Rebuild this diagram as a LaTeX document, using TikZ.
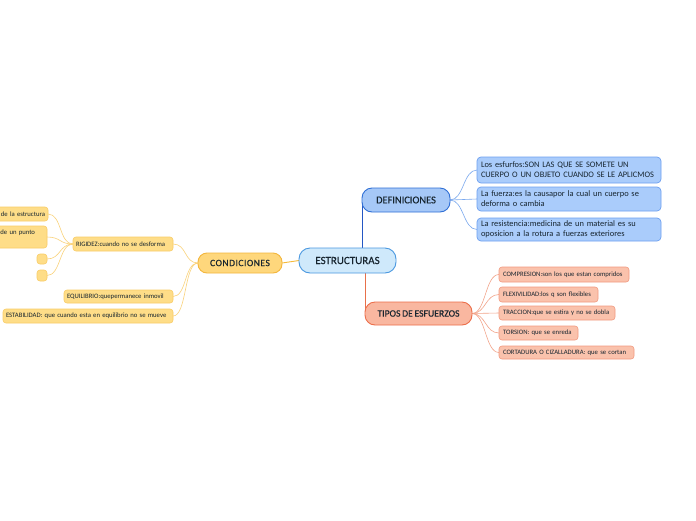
\documentclass[tikz,border=0pt]{standalone}
\usepackage{fontspec}
\setmainfont{Carlito}[WordSpace=0.75]
\usetikzlibrary{backgrounds}
\definecolor{txt}{HTML}{17252F}
\definecolor{rootfill}{HTML}{CFE9FB}
\definecolor{rootdraw}{HTML}{4A98E0}
\definecolor{deffill}{HTML}{A6C8F7}
\definecolor{defdraw}{HTML}{2F6FD6}
\definecolor{dchfill}{HTML}{AACCFB}
\definecolor{dchdraw}{HTML}{6C9FF0}
\definecolor{tipfill}{HTML}{F9B7A0}
\definecolor{tipdraw}{HTML}{EC6E4A}
\definecolor{tchfill}{HTML}{FAC2AC}
\definecolor{tchdraw}{HTML}{F29A80}
\definecolor{conFill}{HTML}{FED77C}
\definecolor{conDraw}{HTML}{F3B63C}
\definecolor{ychfill}{HTML}{FEDD88}
\definecolor{ychdraw}{HTML}{F9CC66}
\definecolor{bluel}{HTML}{2457C4}
\definecolor{bluet}{HTML}{7AA8EE}
\definecolor{redl}{HTML}{E8704A}
\definecolor{redt}{HTML}{F2A48A}
\definecolor{yell}{HTML}{F5BA3A}
\definecolor{yelt}{HTML}{FAD27A}
\begin{document}
\begin{tikzpicture}[x=1pt,y=-1pt,
  every node/.style={text=txt,inner sep=0pt,outer sep=0pt},
  titlefont/.style={font=\fontsize{#1}{12}\selectfont\addfontfeature{FakeBold=0.4}},
  rootbox/.style={draw=rootdraw,fill=rootfill,line width=0.9pt,rounded corners=11pt,minimum width=97pt,minimum height=25pt,titlefont=11},
  defbox/.style={draw=defdraw,fill=deffill,line width=0.9pt,rounded corners=10pt,minimum width=88pt,minimum height=24pt,titlefont=10.4},
  tipbox/.style={draw=tipdraw,fill=tipfill,line width=0.9pt,rounded corners=10pt,minimum width=107pt,minimum height=23pt,titlefont=9.7},
  conbox/.style={draw=conDraw,fill=conFill,line width=0.9pt,rounded corners=9pt,minimum width=84pt,minimum height=20pt,font=\fontsize{9.6}{12}\selectfont\addfontfeature{FakeBold=0.4,LetterSpace=5}},
  dchbox/.style={draw=dchdraw,fill=dchfill,line width=0.7pt,rounded corners=4pt,anchor=west,text width=176pt,inner xsep=4pt,align=left,font=\fontsize{8.4}{10}\selectfont},
  tchbox/.style={draw=tchdraw,fill=tchfill,line width=0.6pt,rounded corners=3pt,anchor=west,inner xsep=4pt,text width=#1-7pt,align=left,font=\fontsize{6.7}{7}\selectfont},
  ychbox/.style={draw=ychdraw,fill=ychfill,line width=0.6pt,rounded corners=3pt,anchor=east,inner xsep=3pt,text width=#1-6pt,align=left,font=\fontsize{6.7}{7}\selectfont},
  bluecon/.style={draw=bluet,line width=0.6pt},
  redcon/.style={draw=redt,line width=0.6pt},
  yelcon/.style={draw=yelt,line width=0.6pt}
]
\begin{pgfonlayer}{background}
\fill[white] (0,0) rectangle (696,520);
\end{pgfonlayer}
\useasboundingbox (0,0) rectangle (696,520);
% main nodes
\node[rootbox] (root) at (347.5,260.5) {ESTRUCTURAS};
\node[defbox] (def) at (406,200) {DEFINICIONES};
\node[tipbox] (tip) at (418.5,313.5) {TIPOS DE ESFUERZOS};
\node[conbox] (con) at (240,263) {CONDICIONES};
% definitions
\node[dchbox,minimum height=26pt] (d1) at (477,170) {Los esfurfos:SON LAS QUE SE SOMETE UN\\CUERPO O UN OBJETO CUANDO SE LE APLICMOS};
\node[dchbox,minimum height=24pt] (d2) at (477,199) {La fuerza:es la causapor la cual un cuerpo se\\deforma o cambia};
\node[dchbox,minimum height=23pt] (d3) at (477,229.5) {La resistencia:medicina de un material es su\\oposicion a la rotura a fuerzas exteriores};
% tipos
\node[tchbox=129pt,minimum height=15pt] (t1) at (499,274.5) {\mbox{COMPRESION:son los que estan compridos}};
\node[tchbox=98pt,minimum height=15pt] (t2) at (499,294.5) {\mbox{FLEXIVILIDAD:los q son flexibles}};
\node[tchbox=115pt,minimum height=14pt] (t3) at (499,313) {\mbox{TRACCION:que se estira y no se dobla}};
\node[tchbox=78pt,minimum height=14pt] (t4) at (499,333) {\mbox{TORSION: que se enreda}};
\node[tchbox=134pt,minimum height=13pt] (t5) at (499,352.5) {\mbox{CORTADURA O CIZALLADURA: que se cortan}};
% condiciones
\node[ychbox=100pt,minimum height=14pt] (rig) at (173,244) {\mbox{RIGIDEZ:cuando no se desforma}};
\node[ychbox=109pt,minimum height=13pt] (equ) at (173,296.5) {\mbox{EQUILIBRIO:quepermanece inmovil}};
\node[ychbox=170pt,minimum height=14pt] (est) at (173,316) {\mbox{ESTABILIDAD: que cuando esta en equilibrio no se mueve}};
% rigidez children
\node[ychbox=97pt,align=right,minimum height=14pt] (r1) at (48,214) {de la estructura};
\node[ychbox=97pt,align=right,minimum height=22pt,font=\fontsize{6.7}{9}\selectfont] (r2) at (47,237) {de un punto\rule{9pt}{0pt}\\\mbox{}};
\node[ychbox=10pt,text width=,minimum width=10pt,minimum height=10pt,inner sep=0pt] (r3) at (47,259) {};
\node[ychbox=10pt,text width=,minimum width=10pt,minimum height=11pt,inner sep=0pt] (r4) at (47,275.5) {};
% connectors
\begin{pgfonlayer}{background}
\draw[draw=bluel,line width=0.9pt] (root.north -| def.west) -- (def.west);
\draw[draw=redl,line width=0.9pt] (root.south -| tip.west) -- (tip.west);
\draw[draw=yell,line width=0.9pt] (root.west) -- (con.east);
\foreach \n in {d1,d2,d3}
  \draw[bluecon] (def.east) .. controls +(14,0) and +(-14,0) .. (\n.west);
\foreach \n in {t1,t2,t3,t4,t5}
  \draw[redcon] (tip.east) .. controls +(14,0) and +(-14,0) .. (\n.west);
\foreach \n in {rig,equ,est}
  \draw[yelcon] (con.west) .. controls +(-14,0) and +(14,0) .. (\n.east);
\foreach \n in {r1,r2,r3,r4}
  \draw[yelcon] (rig.west) .. controls +(-14,0) and +(14,0) .. (\n.east);
\end{pgfonlayer}
\end{tikzpicture}
\end{document}
